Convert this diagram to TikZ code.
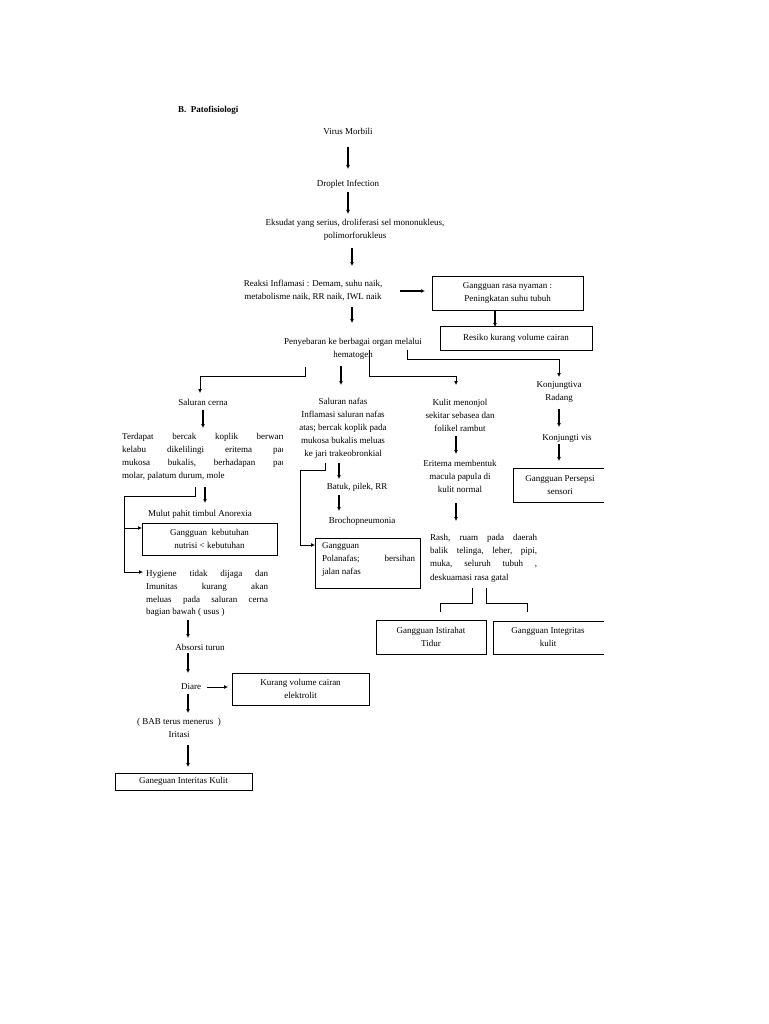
\documentclass[tikz,border=0pt]{standalone}
\usepackage{fontspec}
\setmainfont{Liberation Serif}
\usetikzlibrary{arrows.meta}
\begin{document}
\begin{tikzpicture}[x=1pt,y=-1pt,
 t/.style={inner sep=0pt,align=center,font=\fontsize{9}{13}\selectfont},
 tl/.style={t,align=left},
 a/.style={-{Latex[length=4pt,width=4pt]},line width=1.2pt},
 a2/.style={-{Latex[length=4pt,width=4pt]},line width=0.8pt},
 ln/.style={line width=0.8pt},
 bx/.style={draw,line width=0.8pt}]
\useasboundingbox (0,0) rectangle (768,1024);
\fill[white] (0,0) rectangle (768,1024);
\node[t,font=\fontsize{9}{11}\bfseries\selectfont,anchor=west] (ttl) at (178,110) {B.\ \ Patofisiologi};
\node[t] (vm) at (348,131) {Virus Morbili};
\node[t] (di) at (348,184) {Droplet Infection};
\node[t] (ek) at (355,230) {Eksudat yang serius, droliferasi sel mononukleus,\\polimorforukleus};
\node[t] (ri) at (313,291) {Reaksi Inflamasi : Demam, suhu naik,\\metabolisme naik, RR naik, IWL naik};
\node[bx,t,minimum width=151pt,minimum height=34pt] (gr) at (507.5,293) {Gangguan rasa nyaman :\\Peningkatan suhu tubuh};
\node[bx,t,minimum width=152pt,minimum height=24pt] (rk) at (516,338) {Resiko kurang volume cairan};
\node[t] (pe) at (353,349) {Penyebaran ke berbagai organ melalui\\hematogen};
\draw[a] (348,147) -- (348,169);
\draw[a] (348,192) -- (348,214);
\draw[a] (352,248) -- (352,266);
\draw[a] (400,291) -- (425,291);
\draw[a] (495,310) -- (495,327);
\draw[a] (352,307) -- (352,323);
% branches
\node[t] (sc) at (203,402) {Saluran cerna};
\node[t] (sn) at (343,428) {Saluran nafas\\Inflamasi saluran nafas\\atas; bercak koplik pada\\mukosa bukalis meluas\\ke jari trakeobronkial};
\node[t] (km) at (460,415) {Kulit menonjol\\sekitar sebasea dan\\folikel rambut};
\node[t] (kj) at (559,392) {Konjungtiva\\Radang};
\draw[a2] (305,367) -- (305,376) -- (200,376) -- (200,393);
\draw[a] (341,366) -- (341,385);
\draw[a2] (369,350) -- (369,376) -- (456,376) -- (456,385);
\draw[a2] (407,350) -- (407,359) -- (559,359) -- (559,377);
% left column
\draw[a] (203,410) -- (203,428);
\begin{scope}
\clip (110,428) rectangle (282,484);
\foreach \y/\s in {437/{Terdapat\hfill bercak\hfill koplik\hfill berwarna},450/{kelabu\hfill dikelilingi\hfill eritema\hfill pada},463/{mukosa\hfill bukalis,\hfill berhadapan\hfill pada}}
 \node[t,anchor=west] at (122,\y) {\makebox[168pt][s]{\s}};
\node[t,anchor=west] (td) at (122,476) {molar, palatum durum, mole};
\end{scope}
\draw[a] (205,487) -- (205,503);
\node[t] (mp) at (200,514) {Mulut pahit timbul Anorexia};
\node[bx,t,minimum width=135pt,minimum height=32pt] (gk) at (209.5,539) {Gangguan\ \ kebutuhan\\nutrisi \textless\ kebutuhan};
\draw[ln] (195,487) -- (195,496) -- (124,496) -- (124,572);
\draw[a2] (124,528) -- (142,528);
\draw[a2] (124,572) -- (143,572);
\foreach \y/\s in {574/{Hygiene\hfill tidak\hfill dijaga\hfill dan},587/{Imunitas\hfill kurang\hfill akan},600/{meluas\hfill pada\hfill saluran\hfill cerna}}
 \node[t,anchor=west] at (146,\y) {\makebox[122pt][s]{\s}};
\node[t,anchor=west] (hy) at (146,612) {bagian bawah ( usus )};
\draw[a] (188,620) -- (188,638);
\node[t] (ab) at (200,647) {Absorsi turun};
\draw[a] (188,653) -- (188,673);
\node[t] (dr) at (191,687) {Diare};
\draw[a2] (207,687) -- (228,687);
\node[bx,t,minimum width=137pt,minimum height=32pt] (kv) at (300.5,689) {Kurang volume cairan\\elektrolit};
\draw[a] (188,694) -- (188,713);
\node[t] (bab) at (179,728) {( BAB terus menerus\ \ )\\Iritasi};
\draw[a] (188,745) -- (188,767);
\node[bx,t,minimum width=137pt,minimum height=17pt] (gi) at (183.5,781.5) {Ganeguan Interitas Kulit};
% middle
\draw[ln] (325,463) -- (325,470) -- (300,470) -- (300,545);
\draw[a2] (300,545) -- (315,545);
\draw[a] (339,463) -- (339,479);
\node[t] (bt) at (357,487) {Batuk, pilek, RR};
\draw[a] (339,495) -- (339,511);
\node[t] (bp) at (362,521) {Brochopneumonia};
\node[bx,minimum width=105pt,minimum height=50pt] (gp) at (367.5,563) {};
\node[t,anchor=west] at (322,546) {Gangguan};
\node[t,anchor=west] at (322,559) {\makebox[93pt][s]{Polanafas;\hfill bersihan}};
\node[t,anchor=west] at (322,572) {jalan nafas};
% right
\draw[a] (456,436) -- (456,454);
\node[t] (er) at (460,476) {Eritema membentuk\\macula papula di\\kulit normal};
\draw[a] (456,503) -- (456,521);
\foreach \y/\s in {538/{Rash,\hfill ruam\hfill pada\hfill daerah},551/{balik\hfill telinga,\hfill leher,\hfill pipi,},564/{muka,\hfill seluruh\hfill tubuh\hfill ,}}
 \node[t,anchor=west] at (430,\y) {\makebox[107pt][s]{\s}};
\node[t,anchor=west] (rs) at (430,578) {deskuamasi rasa gatal};
\draw[ln] (472,588) -- (472,603) -- (440,603) -- (440,612);
\draw[ln] (486,588) -- (486,603) -- (527,603) -- (527,612);
\node[bx,t,minimum width=110pt,minimum height=34pt] (gt) at (431,637) {Gangguan Istirahat\\Tidur};
\draw[ln] (604,621) -- (493,621) -- (493,654) -- (604,654);
\node[t] (gin) at (548,637.5) {Gangguan Integritas\\kulit};
\draw[a] (559,409) -- (559,427);
\node[t] (kv2) at (567,438) {Konjungti vis};
\draw[a] (559,444) -- (559,461);
\draw[ln] (604,468) -- (513,468) -- (513,502) -- (604,502);
\node[t] (gps) at (560,485) {Gangguan Persepsi\\sensori};
\end{tikzpicture}
\end{document}
